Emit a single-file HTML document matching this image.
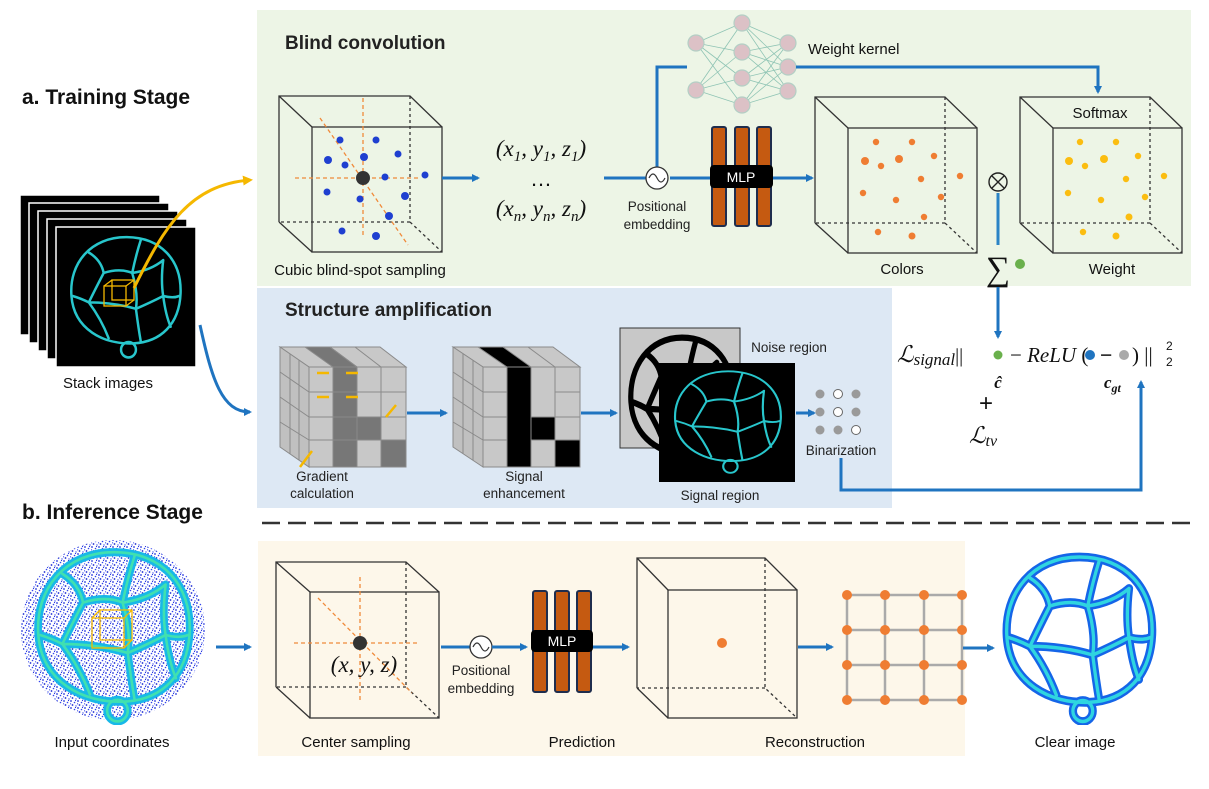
<!DOCTYPE html>
<html><head><meta charset="utf-8"><style>
html,body{margin:0;padding:0;background:#fff;}
svg{display:block;font-family:"Liberation Sans",sans-serif;}
.lbl{font-size:15px;fill:#111;text-anchor:middle;}
.sm{font-size:13.5px;fill:#222;text-anchor:middle;}
.math{font-family:"Liberation Serif",serif;font-style:italic;fill:#111;}
</style></head><body>
<svg width="1209" height="789" viewBox="0 0 1209 789" xmlns="http://www.w3.org/2000/svg">
<defs>
<marker id="ab" markerWidth="8" markerHeight="8" refX="6" refY="4" orient="auto" markerUnits="userSpaceOnUse"><path d="M0,0 L8,4 L0,8 z" fill="#1f74c0"/></marker>
<marker id="ay" markerWidth="10" markerHeight="10" refX="7" refY="5" orient="auto" markerUnits="userSpaceOnUse"><path d="M0,0 L10,5 L0,10 z" fill="#f5b800"/></marker>
<symbol id="cells" viewBox="0 0 100 100" preserveAspectRatio="none">
<g fill="none" stroke-linecap="round">
<path d="M50,4 C78,4 95,22 94,48 C93,72 78,86 56,87 C32,88 8,76 6,50 C4,24 22,4 50,4 z"/>
<circle cx="52" cy="92" r="6"/>
<path d="M20,16 Q30,22 32,32 M32,32 Q45,28 55,32 M55,32 Q58,18 62,6 M55,32 Q70,30 80,22 M32,32 Q25,45 20,55 M7,50 Q14,52 20,55 M20,55 Q30,68 36,83 M55,32 Q60,48 58,60 M20,55 Q40,55 58,60 M58,60 Q70,55 80,50 M80,22 Q78,38 80,50 M80,50 Q88,52 93,50 M58,60 Q60,75 62,86 M80,50 Q82,65 86,74"/>
</g>
</symbol>
<pattern id="noise" width="7" height="7" patternUnits="userSpaceOnUse">
<rect width="7" height="7" fill="#fff"/>
<circle cx="1" cy="1" r="0.9" fill="#2233dd"/><circle cx="4.5" cy="2.5" r="0.8" fill="#3344ee"/><circle cx="2.5" cy="5" r="0.9" fill="#1a2ad0"/><circle cx="6" cy="6" r="0.7" fill="#4455ee"/><circle cx="5.5" cy="0.5" r="0.6" fill="#2233dd"/><circle cx="0.5" cy="3.8" r="0.6" fill="#3344ee"/>
</pattern>
</defs>

<rect x="257" y="10" width="934" height="276" fill="#edf5e6"/>
<rect x="257" y="288" width="635" height="220" fill="#dde8f4"/>
<rect x="258" y="541" width="707" height="215" fill="#fdf7ea"/>
<line x1="262" y1="523" x2="1196" y2="523" stroke="#333" stroke-width="2.5" stroke-dasharray="18,8"/>

<text x="22" y="104" font-size="21" font-weight="bold" fill="#111">a.  Training Stage</text>
<text x="22" y="519" font-size="21" font-weight="bold" fill="#111">b.  Inference Stage</text>
<text x="285" y="49" font-size="19" font-weight="bold" fill="#222">Blind convolution</text>
<text x="285" y="316" font-size="19" font-weight="bold" fill="#222">Structure amplification</text>

<g stroke="#fff" stroke-width="1.5">
<rect x="20" y="195" width="140" height="140" fill="#000"/>
<rect x="29" y="203" width="140" height="140" fill="#000"/>
<rect x="38" y="211" width="140" height="140" fill="#000"/>
<rect x="47" y="219" width="140" height="140" fill="#000"/>
<rect x="56" y="227" width="140" height="140" fill="#000"/>
</g>
<use href="#cells" x="64" y="232" width="124" height="128" stroke="#28c6cc" stroke-width="2"/>
<g stroke="#f5b800" stroke-width="1.3" fill="none"><rect x="104" y="286" width="22" height="20"/><rect x="112" y="280" width="22" height="20"/><path d="M104,286 L112,280 M126,286 L134,280 M126,306 L134,300"/></g>
<text x="108" y="388" class="lbl">Stack images</text>
<path d="M134,288 C165,225 190,185 250,180" fill="none" stroke="#f5b800" stroke-width="3" marker-end="url(#ay)"/>
<path d="M200,325 C212,380 222,412 250,412" fill="none" stroke="#1f74c0" stroke-width="3" marker-end="url(#ab)"/>

<g fill="none" stroke="#333" stroke-width="1.3">
<path d="M410,222 L279,222" stroke-dasharray="3,3"/><path d="M410,96 L410,222 L442,252" stroke-dasharray="3,3"/>
<path d="M279,222 L279,96 L410,96 L442,127 M279,96 L312,127 M279,222 L312,252"/>
<rect x="312" y="127" width="130" height="125"/>
</g>
<g stroke="#f08a3a" stroke-width="1.3" stroke-dasharray="4,3"><line x1="363" y1="98" x2="363" y2="238"/><line x1="295" y1="178" x2="420" y2="178"/><line x1="320" y1="118" x2="408" y2="245"/></g>
<circle cx="363" cy="178" r="7" fill="#333"/>
<g fill="#1f3fd0"><circle cx="340" cy="140" r="3.5"/><circle cx="376" cy="140" r="3.5"/><circle cx="328" cy="160" r="4"/><circle cx="345" cy="165" r="3.5"/><circle cx="364" cy="157" r="4"/><circle cx="398" cy="154" r="3.5"/><circle cx="385" cy="177" r="3.5"/><circle cx="425" cy="175" r="3.5"/><circle cx="327" cy="192" r="3.5"/><circle cx="360" cy="199" r="3.5"/><circle cx="405" cy="196" r="4"/><circle cx="389" cy="216" r="4"/><circle cx="342" cy="231" r="3.5"/><circle cx="376" cy="236" r="4"/></g>
<text x="360" y="275" class="lbl">Cubic blind-spot sampling</text>
<line x1="442" y1="178" x2="478" y2="178" stroke="#1f74c0" stroke-width="3" marker-end="url(#ab)"/>
<text x="541" y="156" font-size="23" class="math" text-anchor="middle">(x<tspan font-size="15" dy="5">1</tspan><tspan dy="-5">, y</tspan><tspan font-size="15" dy="5">1</tspan><tspan dy="-5">, z</tspan><tspan font-size="15" dy="5">1</tspan><tspan dy="-5">)</tspan></text>
<text x="541" y="186" font-size="22" fill="#111" text-anchor="middle">…</text>
<text x="541" y="216" font-size="23" class="math" text-anchor="middle">(x<tspan font-size="15" dy="5">n</tspan><tspan dy="-5">, y</tspan><tspan font-size="15" dy="5">n</tspan><tspan dy="-5">, z</tspan><tspan font-size="15" dy="5">n</tspan><tspan dy="-5">)</tspan></text>
<line x1="604" y1="178" x2="648" y2="178" stroke="#1f74c0" stroke-width="3"/>
<line x1="670" y1="178" x2="713" y2="178" stroke="#1f74c0" stroke-width="3"/>
<polyline points="657,167 657,67 687,67" fill="none" stroke="#1f74c0" stroke-width="3"/>
<circle cx="657" cy="178" r="11" fill="#fff" stroke="#333" stroke-width="1.3"/>
<path d="M649,178 q4,-8 8,0 q4,8 8,0" fill="none" stroke="#333" stroke-width="1.2"/>
<text x="657" y="211" class="sm">Positional</text><text x="657" y="229" class="sm">embedding</text>
<g fill="#c55a11" stroke="#1f2d4d" stroke-width="2"><rect x="712" y="127" width="14" height="99" rx="2"/><rect x="735" y="127" width="14" height="99" rx="2"/><rect x="757" y="127" width="14" height="99" rx="2"/></g>
<rect x="710" y="165" width="63" height="23" rx="4" fill="#000"/>
<text x="741" y="182" font-size="14" fill="#fff" text-anchor="middle">MLP</text>
<line x1="773" y1="178" x2="812" y2="178" stroke="#1f74c0" stroke-width="3" marker-end="url(#ab)"/>
<g stroke="#8fc4b4" stroke-width="0.8">
<path d="M696,43 L742,23 M696,43 L742,52 M696,43 L742,78 M696,43 L742,105 M696,90 L742,23 M696,90 L742,52 M696,90 L742,78 M696,90 L742,105 M742,23 L788,43 M742,23 L788,67 M742,23 L788,91 M742,52 L788,43 M742,52 L788,67 M742,52 L788,91 M742,78 L788,43 M742,78 L788,67 M742,78 L788,91 M742,105 L788,43 M742,105 L788,67 M742,105 L788,91"/>
</g>
<g fill="#dcc1c6" stroke="#b3cfc5" stroke-width="1.2"><circle cx="696" cy="43" r="8"/><circle cx="696" cy="90" r="8"/><circle cx="742" cy="23" r="8"/><circle cx="742" cy="52" r="8"/><circle cx="742" cy="78" r="8"/><circle cx="742" cy="105" r="8"/><circle cx="788" cy="43" r="8"/><circle cx="788" cy="67" r="8"/><circle cx="788" cy="91" r="8"/></g>
<text x="808" y="54" font-size="15" fill="#111">Weight kernel</text>
<polyline points="796,67 1098,67 1098,92" fill="none" stroke="#1f74c0" stroke-width="3" marker-end="url(#ab)"/>
<g fill="none" stroke="#333" stroke-width="1.3">
<path d="M945,223 L815,223 M945,97 L945,223 L977,253" stroke-dasharray="3,3"/>
<path d="M815,223 L815,97 L945,97 L977,128 M815,97 L848,128 M815,223 L848,253"/>
<rect x="848" y="128" width="129" height="125"/>
<path d="M1150,223 L1020,223 M1150,97 L1150,223 L1182,253" stroke-dasharray="3,3"/>
<path d="M1020,223 L1020,97 L1150,97 L1182,128 M1020,97 L1053,128 M1020,223 L1053,253"/>
<rect x="1053" y="128" width="129" height="125"/>
</g>
<g fill="#ef7d32"><circle cx="876" cy="142" r="3.2"/><circle cx="912" cy="142" r="3.2"/><circle cx="865" cy="161" r="4"/><circle cx="881" cy="166" r="3.2"/><circle cx="899" cy="159" r="4"/><circle cx="934" cy="156" r="3.2"/><circle cx="921" cy="179" r="3.2"/><circle cx="960" cy="176" r="3.2"/><circle cx="863" cy="193" r="3.2"/><circle cx="896" cy="200" r="3.2"/><circle cx="941" cy="197" r="3.2"/><circle cx="924" cy="217" r="3.2"/><circle cx="878" cy="232" r="3.2"/><circle cx="912" cy="236" r="3.5"/></g>
<g fill="#fbbd10"><circle cx="1080" cy="142" r="3.2"/><circle cx="1116" cy="142" r="3.2"/><circle cx="1069" cy="161" r="4"/><circle cx="1085" cy="166" r="3.2"/><circle cx="1104" cy="159" r="4"/><circle cx="1138" cy="156" r="3.2"/><circle cx="1126" cy="179" r="3.2"/><circle cx="1164" cy="176" r="3.2"/><circle cx="1068" cy="193" r="3.2"/><circle cx="1101" cy="200" r="3.2"/><circle cx="1145" cy="197" r="3.2"/><circle cx="1129" cy="217" r="3.5"/><circle cx="1083" cy="232" r="3.2"/><circle cx="1116" cy="236" r="3.5"/></g>
<text x="1100" y="118" class="lbl">Softmax</text>
<text x="902" y="274" class="lbl">Colors</text>
<text x="1112" y="274" class="lbl">Weight</text>
<circle cx="998" cy="182" r="9" fill="none" stroke="#222" stroke-width="1.4"/>
<path d="M992,176 L1004,188 M1004,176 L992,188" stroke="#222" stroke-width="1.4"/>
<line x1="998" y1="193" x2="998" y2="245" stroke="#2b84c6" stroke-width="3"/>
<text x="998" y="280" font-size="34" fill="#111" text-anchor="middle" font-family="Liberation Serif,serif">∑</text>
<circle cx="1020" cy="264" r="5" fill="#6ab04c"/>
<line x1="998" y1="287" x2="998" y2="337" stroke="#1f74c0" stroke-width="3" marker-end="url(#ab)"/>
<!-- formula -->
<text x="897" y="362" font-size="23" class="math">ℒ<tspan font-size="17" dy="3">signal</tspan><tspan dy="-3" font-style="normal" font-size="20">||</tspan></text>
<circle cx="998" cy="355" r="4.5" fill="#6ab04c"/>
<text x="1010" y="362" font-size="21" class="math"><tspan font-style="normal">−</tspan> ReLU <tspan font-style="normal">(</tspan></text>
<circle cx="1090" cy="355" r="5" fill="#1f74c0"/>
<text x="1100" y="362" font-size="21" fill="#111">−</text>
<circle cx="1124" cy="355" r="5" fill="#aaa"/>
<text x="1132" y="362" font-size="21" fill="#111" font-family="Liberation Serif,serif">) ||</text>
<text x="1166" y="350" font-size="12" fill="#111">2</text><text x="1166" y="366" font-size="12" fill="#111">2</text>
<text x="998" y="388" font-size="17" class="math" font-weight="bold" text-anchor="middle">ĉ</text>
<text x="1104" y="388" font-size="17" class="math" font-weight="bold">c<tspan font-size="12" dy="4">gt</tspan></text>
<text x="986" y="411" font-size="24" fill="#111" text-anchor="middle">+</text>
<text x="983" y="443" font-size="23" class="math" text-anchor="middle">ℒ<tspan font-size="16" dy="3">tv</tspan></text>
<polyline points="841,458 841,490 1141,490 1141,382" fill="none" stroke="#1f74c0" stroke-width="3" marker-end="url(#ab)"/>

<g stroke="#8a8a8a" stroke-width="1">
<path d="M280,347 L380,347 L406,367 L309,367 z" fill="#c8c8c8"/>
<path d="M280,347 L309,367 L309,467 L280,447 z" fill="#c0c0c0"/>
<rect x="309" y="367" width="97" height="100" fill="#c8c8c8"/>
<path d="M305,347 L330,347 L357,367 L333,367 z" fill="#777"/>
<rect x="333" y="367" width="24" height="100" fill="#777"/>
<rect x="357" y="417" width="24" height="23" fill="#777"/>
<rect x="381" y="440" width="25" height="27" fill="#777"/>
<path d="M309,392 H406 M309,417 H406 M309,440 H406 M333,367 V467 M357,367 V467 M381,367 V467 M280,372 L309,392 M280,397 L309,417 M280,422 L309,440 M290,354 L290,454 M299,360 L299,460 M330,347 L357,367 M355,347 L381,367" fill="none"/>
</g>
<g stroke="#f5b800" stroke-width="2.5" fill="none"><path d="M317,373 h12 M358,373 h-12 M317,397 h12 M358,397 h-12 M396,405 l-10,12 M300,467 l12,-16"/></g>
<text x="322" y="481" class="sm">Gradient</text><text x="322" y="498" class="sm">calculation</text>
<line x1="407" y1="413" x2="446" y2="413" stroke="#1f74c0" stroke-width="3" marker-end="url(#ab)"/>
<g stroke="#8a8a8a" stroke-width="1">
<path d="M453,347 L553,347 L580,367 L483,367 z" fill="#c8c8c8"/>
<path d="M453,347 L483,367 L483,467 L453,447 z" fill="#c0c0c0"/>
<rect x="483" y="367" width="97" height="100" fill="#c8c8c8"/>
<path d="M478,347 L503,347 L531,367 L507,367 z" fill="#000"/>
<rect x="507" y="367" width="24" height="100" fill="#000"/>
<rect x="531" y="417" width="24" height="23" fill="#000"/>
<rect x="555" y="440" width="25" height="27" fill="#000"/>
<path d="M483,392 H507 M555,392 H580 M483,417 H507 M555,417 H580 M483,440 H507 M483,367 V467 M555,367 V440 M453,372 L483,392 M453,397 L483,417 M453,422 L483,440 M463,354 L463,454 M473,360 L473,460 M528,347 L555,367" fill="none"/>
</g>
<text x="524" y="481" class="sm">Signal</text><text x="524" y="498" class="sm">enhancement</text>
<line x1="581" y1="413" x2="616" y2="413" stroke="#1f74c0" stroke-width="3" marker-end="url(#ab)"/>
<rect x="620" y="328" width="120" height="120" fill="#c8c8c8" stroke="#333" stroke-width="1"/>
<use href="#cells" x="624" y="332" width="116" height="140" stroke="#000" stroke-width="4.5"/>
<rect x="659" y="363" width="136" height="119" fill="#000"/>
<use href="#cells" x="668" y="367" width="120" height="108" stroke="#28c6cc" stroke-width="1.8"/>
<text x="789" y="352" class="sm">Noise region</text>
<text x="720" y="500" class="sm">Signal region</text>
<line x1="796" y1="413" x2="814" y2="413" stroke="#1f74c0" stroke-width="3" marker-end="url(#ab)"/>
<g stroke="#666" stroke-width="1"><circle cx="820" cy="394" r="4.5" fill="#9a9a9a" stroke="none"/><circle cx="838" cy="394" r="4.5" fill="#fff"/><circle cx="856" cy="394" r="4.5" fill="#9a9a9a" stroke="none"/><circle cx="820" cy="412" r="4.5" fill="#9a9a9a" stroke="none"/><circle cx="838" cy="412" r="4.5" fill="#fff"/><circle cx="856" cy="412" r="4.5" fill="#9a9a9a" stroke="none"/><circle cx="820" cy="430" r="4.5" fill="#9a9a9a" stroke="none"/><circle cx="838" cy="430" r="4.5" fill="#9a9a9a" stroke="none"/><circle cx="856" cy="430" r="4.5" fill="#fff"/></g>
<text x="841" y="455" class="sm">Binarization</text>

<!-- inference -->
<ellipse cx="113" cy="630" rx="92" ry="90" fill="url(#noise)"/>
<use href="#cells" x="28" y="545" width="172" height="180" stroke="#18b8e8" stroke-width="4.5"/>
<use href="#cells" x="28" y="545" width="172" height="180" stroke="#40e0b0" stroke-width="1.5"/>
<g stroke="#f5b800" stroke-width="1.3" fill="none"><rect x="92" y="618" width="32" height="30"/><rect x="100" y="610" width="32" height="30"/><path d="M92,618 L100,610 M124,618 L132,610 M124,648 L132,640"/></g>
<text x="112" y="747" class="lbl">Input coordinates</text>
<line x1="216" y1="647" x2="250" y2="647" stroke="#1f74c0" stroke-width="3" marker-end="url(#ab)"/>
<g fill="none" stroke="#333" stroke-width="1.3">
<path d="M406,687 L276,687 M406,562 L406,687 L439,718" stroke-dasharray="3,3"/>
<path d="M276,687 L276,562 L406,562 L439,592 M276,562 L310,592 M276,687 L310,718"/>
<rect x="310" y="592" width="129" height="126"/>
</g>
<g stroke="#f08a3a" stroke-width="1.3" stroke-dasharray="4,3"><line x1="360" y1="577" x2="360" y2="703"/><line x1="294" y1="643" x2="420" y2="643"/><line x1="318" y1="598" x2="412" y2="693"/></g>
<circle cx="360" cy="643" r="7" fill="#333"/>
<text x="364" y="672" font-size="23" class="math" text-anchor="middle">(x, y, z)</text>
<text x="356" y="747" class="lbl">Center sampling</text>
<line x1="441" y1="647" x2="470" y2="647" stroke="#1f74c0" stroke-width="3"/>
<circle cx="481" cy="647" r="11" fill="#fff" stroke="#333" stroke-width="1.3"/>
<path d="M473,647 q4,-8 8,0 q4,8 8,0" fill="none" stroke="#333" stroke-width="1.2"/>
<line x1="492" y1="647" x2="526" y2="647" stroke="#1f74c0" stroke-width="3" marker-end="url(#ab)"/>
<text x="481" y="675" class="sm">Positional</text><text x="481" y="693" class="sm">embedding</text>
<g fill="#c55a11" stroke="#1f2d4d" stroke-width="2"><rect x="533" y="591" width="14" height="101" rx="2"/><rect x="555" y="591" width="14" height="101" rx="2"/><rect x="577" y="591" width="14" height="101" rx="2"/></g>
<rect x="531" y="630" width="62" height="22" rx="4" fill="#000"/>
<text x="562" y="646" font-size="14" fill="#fff" text-anchor="middle">MLP</text>
<text x="582" y="747" class="lbl">Prediction</text>
<line x1="593" y1="647" x2="628" y2="647" stroke="#1f74c0" stroke-width="3" marker-end="url(#ab)"/>
<g fill="none" stroke="#333" stroke-width="1.3">
<path d="M765,688 L637,688 M765,558 L765,688 L797,718" stroke-dasharray="3,3"/>
<path d="M637,688 L637,558 L765,558 L797,590 M637,558 L668,590 M637,688 L668,718"/>
<rect x="668" y="590" width="129" height="128"/>
</g>
<circle cx="722" cy="643" r="5" fill="#ef7d32"/>
<text x="815" y="747" class="lbl">Reconstruction</text>
<line x1="798" y1="647" x2="832" y2="647" stroke="#1f74c0" stroke-width="3" marker-end="url(#ab)"/>
<g stroke="#aaa" stroke-width="2.5"><path d="M847,595 V700 M885,595 V700 M924,595 V700 M962,595 V700 M847,595 H962 M847,630 H962 M847,665 H962 M847,700 H962"/></g>
<g fill="#ef7d32"><circle cx="847" cy="595" r="5"/><circle cx="885" cy="595" r="5"/><circle cx="924" cy="595" r="5"/><circle cx="962" cy="595" r="5"/><circle cx="847" cy="630" r="5"/><circle cx="885" cy="630" r="5"/><circle cx="924" cy="630" r="5"/><circle cx="962" cy="630" r="5"/><circle cx="847" cy="665" r="5"/><circle cx="885" cy="665" r="5"/><circle cx="924" cy="665" r="5"/><circle cx="962" cy="665" r="5"/><circle cx="847" cy="700" r="5"/><circle cx="885" cy="700" r="5"/><circle cx="924" cy="700" r="5"/><circle cx="962" cy="700" r="5"/></g>
<line x1="963" y1="648" x2="993" y2="648" stroke="#1f74c0" stroke-width="3" marker-end="url(#ab)"/>
<use href="#cells" x="997" y="550" width="165" height="175" stroke="#1565e8" stroke-width="5"/>
<use href="#cells" x="997" y="550" width="165" height="175" stroke="#2fd5e0" stroke-width="2"/>
<text x="1075" y="747" class="lbl">Clear image</text>
</svg>
</body></html>
